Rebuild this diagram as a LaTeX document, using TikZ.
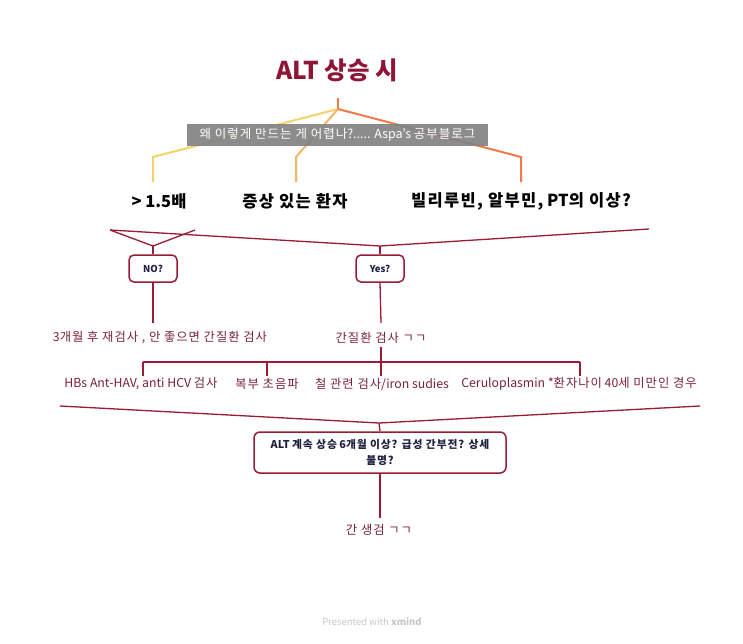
\documentclass[tikz,border=0pt]{standalone}
\usepackage{fontspec}
\setmainfont{Noto Sans CJK KR}
\newcommand\K[1]{{\addfontfeatures{LetterSpace=8}#1}}
\definecolor{linered}{HTML}{9A1C34}
\definecolor{titlered}{HTML}{8E1634}
\definecolor{leafred}{HTML}{7A2236}
\definecolor{navy}{HTML}{1E2140}
\definecolor{cyel}{HTML}{F2D46A}
\definecolor{corl}{HTML}{F5B468}
\definecolor{cor}{HTML}{F27A48}
\begin{document}
\begin{tikzpicture}[x=1pt,y=-1pt,
  maintopic/.style={font=\bfseries\fontsize{24.5}{28}\selectfont, text=titlered},
  lvtwo/.style={font=\bfseries\fontsize{16.5}{19}\selectfont, text=black},
  qbox/.style={draw=linered, line width=1.5pt, rounded corners=5pt, fill=white, minimum width=48pt, minimum height=27pt, font=\bfseries\fontsize{9.5}{11}\selectfont, text=navy, align=center},
  leaf/.style={font=\fontsize{12.3}{14}\selectfont, text=leafred},
  link/.style={draw=linered, line width=1.3pt},
  blink/.style={line width=2pt}
]
\useasboundingbox (0,0) rectangle (743,643);
\fill[white] (0,0) rectangle (743,643);

% title
\node[maintopic] (title) at (337,70) {ALT 상승 시};
\coordinate (tj0) at (338,98);
\coordinate (tj) at (338,109);
\coordinate (ya) at (153,157);
\coordinate (oa) at (296,157);
\coordinate (ra) at (521,157);

\node[lvtwo] (t1) at (159,201) {> 1.5배};
\node[lvtwo] (t2) at (295,201) {\K{증상 있는 환자}};
\node[lvtwo] (t3) at (521,201) {\K{빌리루빈, 알부민,} PT\K{의 이상?}};

\draw[blink, draw=cor] (tj0) -- (tj);
\draw[blink, draw=cyel] (tj) -- (ya) -- (153,182);
\draw[blink, draw=corl] (tj) -- (oa) -- (296,182);
\draw[blink, draw=cor] (tj) -- (ra) -- (521,182);

% watermark
\node[fill=black!50, fill opacity=0.9, text opacity=1, text=white, minimum width=301pt, minimum height=22pt, inner sep=0pt, font=\fontsize{12.5}{14}\selectfont] (wm) at (337.5,135) {\K{왜 이렇게 만드는 게 어렵나}?..... Aspa's \K{공부블로그}};

% summary connectors
\coordinate (sa) at (110,230);
\coordinate (sb) at (153,246);
\coordinate (sc) at (195,230);
\coordinate (sd) at (380,246);
\coordinate (se) at (649,229);
\draw[link] (sa) -- (sb) -- (sc);
\draw[link] (sa) -- (sd) -- (se);

\node[qbox] (no) at (153,268.5) {NO?};
\node[qbox] (yes) at (380,268.5) {Yes?};
\draw[link] (sb) -- (no.north);
\draw[link] (sd) -- (yes.north);

\node[leaf] (l1) at (160,338) {3\K{개월 후 재검사 , 안 좋으면 간질환 검사}};
\node[leaf] (l2) at (381,338) {\K{간질환 검사 ㄱㄱ}};
\draw[link] (no.south) -- (153,323);
\draw[link] (yes.south) -- (381,323);

% level 4
\node[leaf] (m1) at (141,384) {HBs Ant-HAV, anti HCV \K{검사}};
\node[leaf] (m2) at (267,384) {\K{복부 초음파}};
\node[leaf] (m3) at (382,384) {\K{철 관련 검사}/iron sudies};
\node[leaf] (m4) at (579,384) {Ceruloplasmin *\K{환자나이} 40\K{세 미만인 경우}};
\coordinate (hb) at (381,362);
\draw[link] (l2.south) -- (hb);
\draw[link] (143,362) -- (580,362);
\draw[link] (143,362) -- (143,376);
\draw[link] (267,362) -- (267,376);
\draw[link] (hb) -- (381,376);
\draw[link] (580,362) -- (580,376);

% bottom summary
\coordinate (ba) at (60,406);
\coordinate (bb) at (379,423);
\coordinate (bc) at (700,406);
\draw[link] (ba) -- (bb) -- (bc);

\node[qbox, minimum width=252pt, minimum height=41pt, rounded corners=6pt, font=\bfseries\fontsize{10.8}{16}\selectfont] (big) at (380,452.5) {ALT \K{계속 상승} 6\K{개월 이상? 급성 간부전? 상세}\\\K{불명?}};
\draw[link] (bb) -- (big.north);

\node[leaf] (bx) at (379,530) {\K{간 생검 ㄱㄱ}};
\draw[link] (big.south) -- (380,518);

\node[text=black!22, font=\fontsize{9.5}{11}\selectfont] (pw) at (372,622) {Presented with \textbf{xmind}};
\end{tikzpicture}
\end{document}
